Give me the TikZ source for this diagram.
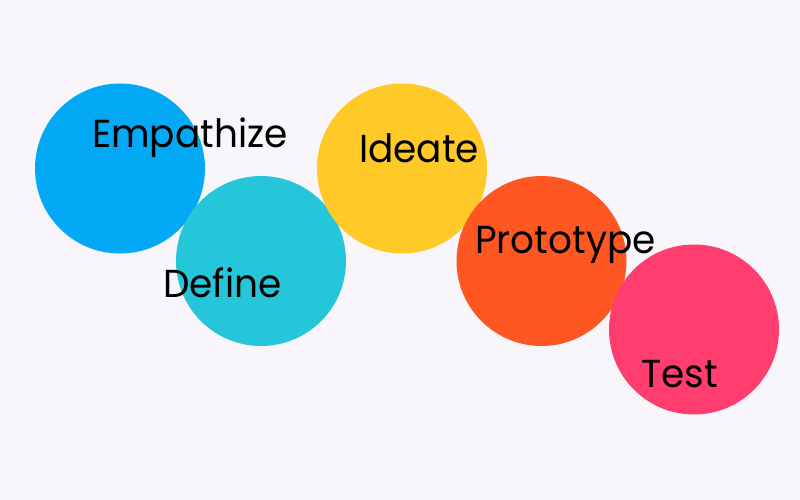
\documentclass[tikz,border=0pt]{standalone}
\usepackage{fontspec}
\setmainfont{Poppins}
\definecolor{bgc}{HTML}{F8F6FA}
\definecolor{cblue}{HTML}{03A9F4}
\definecolor{ccyan}{HTML}{26C6DA}
\definecolor{camber}{HTML}{FFCA28}
\definecolor{corange}{HTML}{FF5722}
\definecolor{cpink}{HTML}{FF3D6F}
\begin{document}
\begin{tikzpicture}[x=1pt,y=-1pt,
  blob/.style={circle,minimum size=170pt,inner sep=0pt,draw=none},
  lbl/.style={anchor=base west,inner sep=0pt,text=black,xscale=0.96,font=\fontsize{39}{43}\selectfont}]
\fill[bgc] (0,0) rectangle (800,500);
\useasboundingbox (0,0) rectangle (800,500);
\node[blob,fill=cblue] (c1) at (120,168.5) {};
\node[blob,fill=ccyan] (c2) at (261,261) {};
\node[blob,fill=camber] (c3) at (402,168.5) {};
\node[blob,fill=corange] (c4) at (541.5,261) {};
\node[blob,fill=cpink] (c5) at (694,329.5) {};
\node[lbl] (t1) at (92,147) {Empathize};
\node[lbl] (t2) at (163,297) {Define};
\node[lbl] (t3) at (359,162) {Ideate};
\node[lbl] (t4) at (475,253) {Prototype};
\node[lbl] (t5) at (641,387) {Test};
\end{tikzpicture}
\end{document}
